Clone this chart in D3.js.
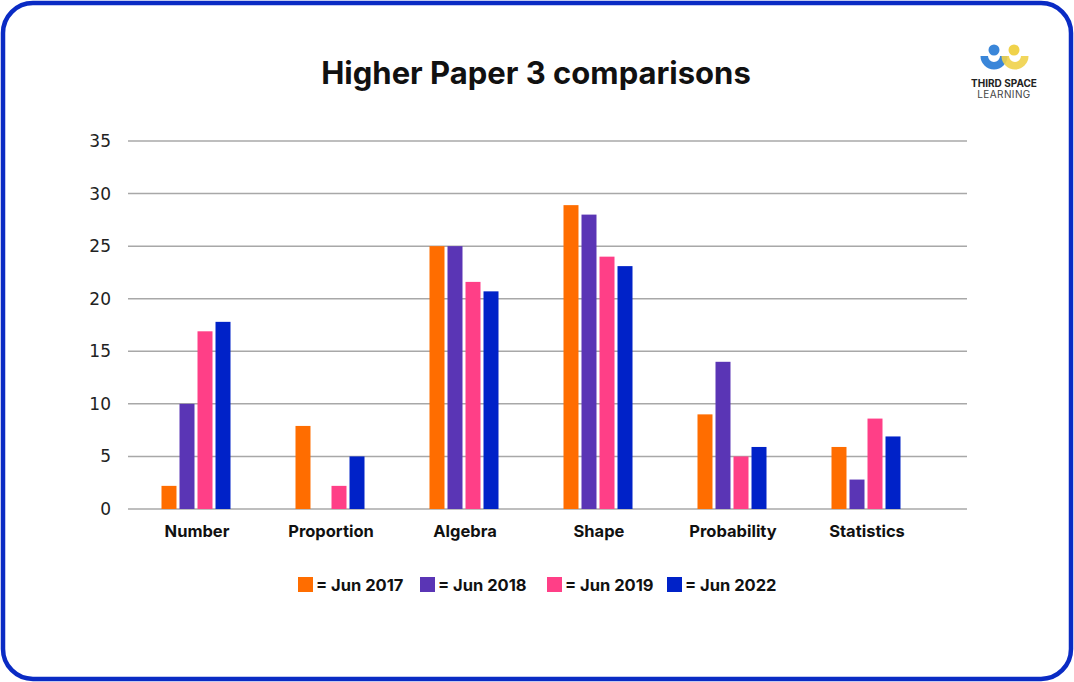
<!DOCTYPE html>
<html lang="en">
<head>
    <meta charset="UTF-8">
    <title>Higher Paper 3 comparisons</title>
    <style>
        body {
            margin: 0;
            overflow: hidden;
            background: #fff;
            font-family: 'Inter', sans-serif;
        }
    </style>
    <script src="https://d3js.org/d3.v7.min.js"></script>
</head>
<body>
    <div id="chart"></div>
    <script>
        const categories = ["Number", "Proportion", "Algebra", "Shape", "Probability", "Statistics"];
        const seriesNames = ["= Jun 2017", "= Jun 2018", "= Jun 2019", "= Jun 2022"];
        const jun2017 = [2.2, 7.9, 25, 28.9, 9, 5.9];
        const jun2018 = [10, 0, 25, 28, 14, 2.8];
        const jun2019 = [16.9, 2.2, 21.6, 24, 5, 8.6];
        const jun2022 = [17.8, 5, 20.7, 23.1, 5.9, 6.9];
        const yTicks = [0, 5, 10, 15, 20, 25, 30, 35];
        const colors = ["#ff6d00", "#5a35b5", "#ff3f87", "#0022c8"];

        const width = 1074, height = 682;
        const seriesValues = [jun2017, jun2018, jun2019, jun2022];

        const svg = d3.select("#chart").append("svg")
            .attr("width", width)
            .attr("height", height);

        // blue rounded frame
        svg.append("rect")
            .attr("x", 3).attr("y", 3)
            .attr("width", width - 6).attr("height", height - 6)
            .attr("rx", 30).attr("ry", 30)
            .attr("fill", "#fff")
            .attr("stroke", "#0a2bc4")
            .attr("stroke-width", 4.5);

        svg.append("text")
            .attr("x", 536).attr("y", 84)
            .attr("text-anchor", "middle")
            .attr("font-size", "31px")
            .attr("font-weight", 700)
            .attr("fill", "#111")
            .text("Higher Paper 3 comparisons");

        const y = d3.scaleLinear().domain([0, 35]).range([509, 141]);
        const x0 = d3.scaleBand().domain(categories).range([129, 933])
            .paddingInner(0.485).paddingOuter(0.2425);
        const x1 = d3.scaleBand().domain(d3.range(seriesNames.length))
            .range([0, x0.bandwidth()]).paddingInner(0.167);

        // gridlines
        svg.append("g").selectAll("line")
            .data(yTicks)
            .join("line")
            .attr("x1", 128).attr("x2", 967)
            .attr("y1", d => y(d)).attr("y2", d => y(d))
            .attr("stroke", "#a8a8a8")
            .attr("stroke-width", 1.5);

        svg.append("g").selectAll("text")
            .data(yTicks)
            .join("text")
            .attr("x", 111)
            .attr("y", d => y(d) + 6)
            .attr("text-anchor", "end")
            .attr("font-family", "'DejaVu Sans', sans-serif")
            .attr("font-size", "17px")
            .attr("fill", "#222")
            .text(d => d);

        // bars
        const groups = svg.append("g").selectAll("g")
            .data(categories)
            .join("g")
            .attr("transform", d => `translate(${x0(d)},0)`);

        groups.selectAll("rect")
            .data((d, i) => seriesValues.map((s, j) => ({ s: j, v: s[i] })))
            .join("rect")
            .attr("x", d => x1(d.s))
            .attr("width", x1.bandwidth())
            .attr("y", d => y(d.v))
            .attr("height", d => y(0) - y(d.v))
            .attr("fill", d => colors[d.s]);

        svg.append("g").selectAll("text")
            .data(categories)
            .join("text")
            .attr("x", d => x0(d) + x0.bandwidth() / 2 + 1)
            .attr("y", 537)
            .attr("text-anchor", "middle")
            .attr("font-size", "16.5px")
            .attr("font-weight", 700)
            .attr("fill", "#111")
            .text(d => d);

        // legend
        const legendX = [298, 420, 547, 667];
        const legend = svg.append("g").selectAll("g")
            .data(seriesNames)
            .join("g")
            .attr("transform", (d, i) => `translate(${legendX[i]},577)`);
        legend.append("rect")
            .attr("width", 15).attr("height", 15)
            .attr("fill", (d, i) => colors[i]);
        legend.append("text")
            .attr("x", 18).attr("y", 14)
            .attr("font-size", "16.5px")
            .attr("font-weight", 700)
            .attr("fill", "#111")
            .text(d => d);

        // logo
        const logo = svg.append("g").attr("transform", "translate(1004,0)");
        const arc = d3.arc().innerRadius(6).outerRadius(13.5);
        logo.append("path")
            .attr("transform", "translate(-10,56)")
            .attr("d", arc({ startAngle: Math.PI / 2, endAngle: Math.PI * 1.5 }))
            .attr("fill", "#3a86d9");
        logo.append("path")
            .attr("transform", "translate(11,56)")
            .attr("d", arc({ startAngle: Math.PI / 2, endAngle: Math.PI * 1.5 }))
            .attr("fill", "#f0d24a")
            .attr("opacity", 0.9);
        logo.append("circle").attr("cx", -10).attr("cy", 50).attr("r", 5.5).attr("fill", "#3a86d9");
        logo.append("circle").attr("cx", 10).attr("cy", 50).attr("r", 5.5).attr("fill", "#f0d24a");
        logo.append("text")
            .attr("x", 0).attr("y", 87)
            .attr("text-anchor", "middle")
            .attr("font-size", "10px")
            .attr("font-weight", 700)
            .attr("fill", "#222")
            .text("THIRD SPACE");
        logo.append("text")
            .attr("x", 0).attr("y", 98)
            .attr("text-anchor", "middle")
            .attr("font-size", "10px")
            .attr("letter-spacing", "0.4px")
            .attr("fill", "#444")
            .text("LEARNING");
    </script>
</body>
</html>
